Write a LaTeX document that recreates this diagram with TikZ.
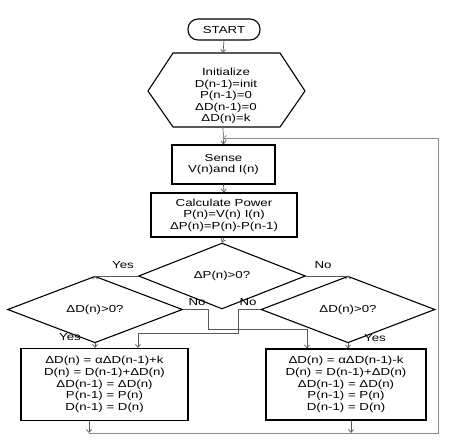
\documentclass[tikz,border=0pt]{standalone}
\usepackage{fontspec}
\setmainfont{Liberation Sans}[FakeStretch=1.3]
\usetikzlibrary{shapes.geometric,arrows.meta}
\tikzset{
  base/.style={font=\fontsize{10.2}{11.6}\selectfont, align=center, inner sep=0pt},
  box/.style={base, draw=black, line width=1.1pt, rectangle},
  term/.style={base, draw=black, line width=1.1pt, rounded corners=10pt, rectangle},
  dec/.style={base, draw=black, line width=1.1pt, diamond},
  conn/.style={draw=black!65, line width=0.7pt, -{Straight Barb[length=3pt,width=5pt]}},
  feed/.style={draw=black!45, line width=0.7pt},
  lbl/.style={font=\fontsize{10.2}{11.6}\selectfont, inner sep=0pt}
}
\begin{document}
\begin{tikzpicture}[x=1pt,y=-1pt]
\useasboundingbox (0,0) rectangle (467,442);
% START
\node[term, minimum width=72pt, minimum height=21pt] (start) at (224,29.5) {START};
% hexagon
\coordinate (hl) at (148,91);
\coordinate (htl) at (173,53);
\coordinate (htr) at (280,53);
\coordinate (hr) at (305,91);
\coordinate (hbr) at (280,127);
\coordinate (hbl) at (173,127);
\draw[black, line width=1.1pt, line join=miter] (hl) -- (htl) -- (htr) -- (hr) -- (hbr) -- (hbl) -- cycle;
\node[base] (init) at (226,96) {Initialize\\D(n-1)=init\\P(n-1)=0\\ΔD(n-1)=0\\ΔD(n)=k};
\coordinate (htop) at (223,53);
\coordinate (hbot) at (223,127);
% sense
\node[box, minimum width=103pt, minimum height=39pt] (sense) at (223.5,164.5) {Sense\\V(n)and I(n)};
% calc
\node[box, minimum width=146pt, minimum height=44pt] (calc) at (224,215) {Calculate Power\\P(n)=V(n) I(n)\\ΔP(n)=P(n)-P(n-1)};
% decisions
\node[dec, minimum width=167pt, minimum height=35pt] (d1) at (222,276) {ΔP(n)>0?};
\node[dec, minimum width=175pt, minimum height=35pt] (d2) at (95,309.5) {ΔD(n)>0?};
\node[dec, minimum width=174pt, minimum height=35pt] (d3) at (348,309.5) {ΔD(n)>0?};
% result boxes
\node[box, minimum width=167pt, minimum height=72pt] (lb) at (104.5,384.5) {ΔD(n) = αΔD(n-1)+k\\D(n) = D(n-1)+ΔD(n)\\ΔD(n-1) = ΔD(n)\\P(n-1) = P(n)\\D(n-1) = D(n)};
\node[box, minimum width=160pt, minimum height=71pt] (rb) at (346,384.5) {ΔD(n) = αΔD(n-1)-k\\D(n) = D(n-1)+ΔD(n)\\ΔD(n-1) = ΔD(n)\\P(n-1) = P(n)\\D(n-1) = D(n)};
% connectors
\draw[conn] (start.south) -- (htop);
\draw[conn] (hbot) -- (sense.north);
\draw[conn] (sense.south) -- (calc.north);
\draw[conn] (calc.south) -- (d1.north);
\draw[conn] (d1.west) -| (d2.north);
\draw[conn] (d1.east) -| (d3.north);
\draw[conn] (d2.south) -- (d2.south |- lb.north);
\draw[conn] (d3.south) -- (d3.south |- rb.north);
\coordinate (n1) at (208,329);
\coordinate (n2) at (307,329);
\draw[conn] (d2.east) -| (n1) -- (n2) -- (n2 |- rb.north);
\coordinate (m1) at (238,333);
\coordinate (m2) at (138,333);
\draw[conn] (d3.west) -| (m1) -- (m2) -- (m2 |- lb.north);
\coordinate (b1) at (89,433);
\coordinate (b2) at (351,433);
\coordinate (bc) at (438,433);
\coordinate (tc) at (438,138);
\coordinate (fj) at (223,138);
\draw[conn] (b1 |- lb.south) -- (b1);
\draw[conn] (b2 |- rb.south) -- (b2);
\draw[feed, -{Straight Barb[length=3pt,width=5pt]}] (b1) -- (bc) -- (tc) -- (fj);
% labels
\node[lbl] (y1) at (123,265) {Yes};
\node[lbl] (n1l) at (323,265) {No};
\node[lbl] (n2l) at (197,302) {No};
\node[lbl] (n3l) at (248,302) {No};
\node[lbl] (y2) at (70,337) {Yes};
\node[lbl] (y3) at (375,338) {Yes};
\end{tikzpicture}
\end{document}
